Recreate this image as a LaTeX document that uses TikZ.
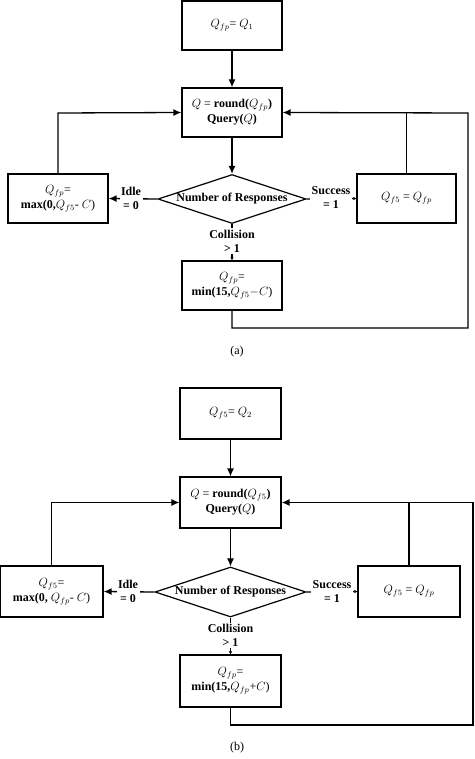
\documentclass[tikz,border=0pt]{standalone}
\usepackage{fontspec}
\setmainfont{Liberation Serif}
\usetikzlibrary{arrows,arrows.meta,shapes.geometric}
\tikzset{
  >=latex,
  {box/.style} ={draw, line width=1.2pt, rectangle, minimum width=100pt,
                 minimum height=49pt, align=center, inner sep=1pt,
                 font=\fontsize{12}{15}\selectfont},
  {decision/.style} ={draw, line width=1.2pt, diamond, inner sep=0pt,
                 minimum width=148pt, minimum height=49pt,
                 font=\fontsize{12}{15}\selectfont\bfseries},
  {branch/.style} ={align=center, inner sep=1.5pt, fill=white,
                 font=\fontsize{12}{14}\selectfont\bfseries},
  {flow/.style} ={line width=1.3pt, -{Latex[length=8pt,width=7pt]}},
  {tiny flow/.style} ={line width=1.1pt, -{Latex[length=3pt,width=3.5pt]}},
  {loop line/.style} ={line width=1.2pt},
}
\begin{document}
\begin{tikzpicture}[x=1pt,y=-1pt]
\useasboundingbox (0,0) rectangle (474,759);
% (a)
\node[box] (initA) at (232,25.5) {$Q_{fp}$= $Q_1$};
\node[box] (queryA) at (232,112.5) {$Q$ = \textbf{round(}$Q_{fp}$\textbf{)}\\ \textbf{Query(}$Q$\textbf{)}};
\node[decision] (respA) at (232,199) {\makebox[0pt]{Number of Responses}};
\node[box] (idleA) at (58,198.5) {$Q_{fp}$=\\ \textbf{max(0,}$Q_{f5}$- $C$)};
\node[box, minimum width=99pt] (succA) at (406.5,198.5) {$Q_{f5}$ = $Q_{fp}$};
\node[box] (collA) at (232,285.5) {$Q_{fp}$=\\ \textbf{min(15,}$Q_{f5}$$-C$)};
\coordinate (leftA) at (58,113);
\coordinate (rightA) at (468,113);
\coordinate (downA) at (232,328);
\coordinate (cornerA) at (468,328);
\draw[flow] (initA) -- (queryA);
\draw[flow] (queryA) -- (respA);
\draw[flow] (respA.west) -- (idleA.east);
\draw[tiny flow] (respA.east) -- (succA.west);
\draw[tiny flow] (respA.south) -- (collA.north);
\draw[flow] (idleA.north) -- (leftA) -- (queryA.west);
\draw[loop line] (succA.north) -- (succA.north |- rightA);
\draw[flow] (collA.south) -- (downA) -- (cornerA) -- (rightA) -- (queryA.east);
\node[branch] (idleLabA) at (131,198) {Idle\\= 0};
\node[branch] (succLabA) at (331,198) {Success\\= 1};
\node[branch] (collLabA) at (232,241) {Collision\\> 1};
\node (capA) at (237,352) {\fontsize{12}{14}\selectfont(a)};
% (b)
\node[box, minimum width=101pt, minimum height=51pt] (initB) at (230.5,413.5) {$Q_{f5}$= $Q_2$};
\node[box, minimum width=101pt, minimum height=51pt] (queryB) at (230.5,502.5) {$Q$ = \textbf{round(}$Q_{f5}$\textbf{)}\\ \textbf{Query(}$Q$\textbf{)}};
\node[decision, minimum width=151pt, minimum height=50pt] (respB) at (230.5,592) {\makebox[0pt]{Number of Responses}};
\node[box, minimum width=103pt, minimum height=51pt] (idleB) at (51.5,591.5) {$Q_{f5}$=\\ \textbf{max(0,} $Q_{fp}$- $C$)};
\node[box, minimum width=102pt, minimum height=51pt] (succB) at (409,591.5) {$Q_{f5}$ = $Q_{fp}$};
\node[box, minimum width=101pt, minimum height=52pt] (collB) at (230.5,681) {$Q_{fp}$=\\ \textbf{min(15,}$Q_{fp}$+$C$)};
\coordinate (leftB) at (51.5,502.5);
\coordinate (rightB) at (473,502.5);
\coordinate (downB) at (230.5,725);
\coordinate (cornerB) at (473,725);
\draw[flow] (initB) -- (queryB);
\draw[flow] (queryB) -- (respB);
\draw[flow] (respB.west) -- (idleB.east);
\draw[tiny flow] (respB.east) -- (succB.west);
\draw[tiny flow] (respB.south) -- (collB.north);
\draw[flow] (idleB.north) -- (leftB) -- (queryB.west);
\draw[loop line] (succB.north) -- (succB.north |- rightB);
\draw[flow] (collB.south) -- (downB) -- (cornerB) -- (rightB) -- (queryB.east);
\node[branch] (idleLabB) at (128,591.5) {Idle\\= 0};
\node[branch] (succLabB) at (332,591.5) {Success\\= 1};
\node[branch] (collLabB) at (230.5,635.5) {Collision\\> 1};
\node (capB) at (237,748) {\fontsize{12}{14}\selectfont(b)};
\end{tikzpicture}
\end{document}
